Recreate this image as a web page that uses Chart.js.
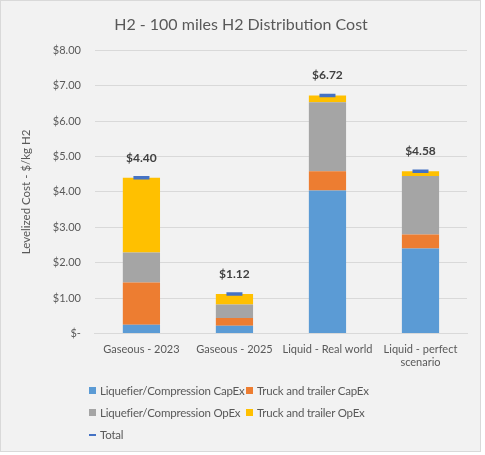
<!DOCTYPE html>
<html>
<head>
<meta charset="utf-8">
<script src="https://cdn.jsdelivr.net/npm/chart.js@4"></script>
<style>
  html, body { margin: 0; padding: 0; background: #ffffff; }
  #box {
    position: absolute; left: 0; top: 0;
    width: 479px; height: 450px;
    background: #f2f2f2; border: 1px solid #d9d9d9;
    font-family: Lato, "Liberation Sans", sans-serif;
  }
  #wrap { position: absolute; left: 0; top: 0; width: 479px; height: 369px; }
  #legend { position: absolute; left: 0; top: 0; width: 479px; height: 450px; pointer-events: none; }
  .leg { position: absolute; font-size: 11.5px; color: #595959; white-space: nowrap; line-height: 14px; letter-spacing: -0.2px; }
  .sw { display: inline-block; width: 7px; height: 7px; margin-right: 4px; vertical-align: 1px; }
  .dash { display: inline-block; width: 7px; height: 2px; margin-right: 4px; vertical-align: 3px; background: #4472C4; }
</style>
</head>
<body>
<div id="box">
  <div id="wrap"><canvas id="costChart"></canvas></div>
  <div id="legend"></div>
</div>
<script>
// Dữ liệu biểu đồ
const categories = ['Gaseous - 2023', 'Gaseous - 2025', 'Liquid - Real world', ['Liquid - perfect', 'scenario']];
const liqCapex = [0.25, 0.22, 4.04, 2.40];
const truckCapex = [1.19, 0.22, 0.54, 0.40];
const liqOpex = [0.85, 0.38, 1.95, 1.65];
const truckOpex = [2.11, 0.30, 0.19, 0.13];
const totals = [4.40, 1.12, 6.72, 4.58];
const yTicks = [0, 1, 2, 3, 4, 5, 6, 7, 8];

const textColor = '#595959';
const gridColor = '#d9d9d9';
const fontFamily = 'Lato, "Liberation Sans", sans-serif';

// Plugin vẽ nhãn tổng phía trên điểm Total
const totalLabels = {
    id: 'totalLabels',
    afterDatasetsDraw(chart) {
        const meta = chart.getDatasetMeta(4);
        const ctx = chart.ctx;
        ctx.save();
        ctx.font = 'bold 12px ' + fontFamily;
        ctx.fillStyle = '#404040';
        ctx.textAlign = 'center';
        ctx.textBaseline = 'middle';
        meta.data.forEach((pt, i) => {
            ctx.fillText('$' + totals[i].toFixed(2), pt.x, pt.y - 20);
        });
        ctx.restore();
    }
};

function barSet(label, data, color) {
    return {
        type: 'bar',
        label: label,
        data: data,
        backgroundColor: color,
        borderWidth: 0,
        stack: 'cost',
        barPercentage: 0.4,
        categoryPercentage: 1,
        order: 2
    };
}

const ctx = document.getElementById('costChart').getContext('2d');
const chart = new Chart(ctx, {
    data: {
        labels: categories,
        datasets: [
            barSet('Liquefier/Compression CapEx', liqCapex, '#5B9BD5'),
            barSet('Truck and trailer CapEx', truckCapex, '#ED7D31'),
            barSet('Liquefier/Compression OpEx', liqOpex, '#A5A5A5'),
            barSet('Truck and trailer OpEx', truckOpex, '#FFC000'),
            {
                type: 'line',
                label: 'Total',
                data: totals,
                showLine: false,
                stack: 'total',
                pointStyle: 'line',
                pointRadius: 8,
                pointHoverRadius: 8,
                pointBorderWidth: 3.5,
                borderColor: '#4472C4',
                backgroundColor: '#4472C4',
                order: 0
            }
        ]
    },
    options: {
        responsive: true,
        maintainAspectRatio: false,
        animation: false,
        layout: { padding: { left: 14, right: 13, top: 4, bottom: 0 } },
        plugins: {
            legend: { display: false },
            tooltip: { enabled: false },
            title: {
                display: true,
                text: 'H2 - 100 miles H2 Distribution Cost',
                color: textColor,
                font: { family: fontFamily, size: 16, weight: 'normal' },
                padding: { top: 10, bottom: 16 }
            }
        },
        scales: {
            x: {
                stacked: true,
                grid: { display: false },
                border: { color: gridColor },
                ticks: {
                    color: textColor,
                    font: { family: fontFamily, size: 11 },
                    maxRotation: 0,
                    autoSkip: false,
                    padding: 1
                }
            },
            y: {
                stacked: true,
                min: yTicks[0],
                max: yTicks[yTicks.length - 1],
                afterBuildTicks(axis) {
                    axis.ticks = yTicks.map(v => ({ value: v }));
                },
                grid: { color: gridColor, drawTicks: false },
                border: { display: false },
                ticks: {
                    color: textColor,
                    font: { family: fontFamily, size: 11 },
                    padding: 14,
                    callback: v => v === 0 ? '$-' : '$' + v.toFixed(2)
                },
                title: {
                    display: true,
                    text: 'Levelized Cost - $/kg H2',
                    color: textColor,
                    font: { family: fontFamily, size: 11.5 },
                    padding: { bottom: 6 }
                }
            }
        }
    },
    plugins: [totalLabels]
});

// Chú thích dạng HTML, hai cột như bản gốc
function buildLegend() {
    const legend = document.getElementById('legend');
    const ds = chart.data.datasets;
    const cols = [88, 245];
    const rows = [383, 405, 427];
    ds.forEach((d, i) => {
        const item = document.createElement('div');
        item.className = 'leg';
        item.style.left = cols[i % 2] + 'px';
        item.style.top = rows[Math.floor(i / 2)] + 'px';
        const mark = d.type === 'line'
            ? '<span class="dash"></span>'
            : `<span class="sw" style="background:${d.backgroundColor}"></span>`;
        item.innerHTML = mark + `<span>${d.label}</span>`;
        legend.appendChild(item);
    });
}

buildLegend();
</script>
</body>
</html>
